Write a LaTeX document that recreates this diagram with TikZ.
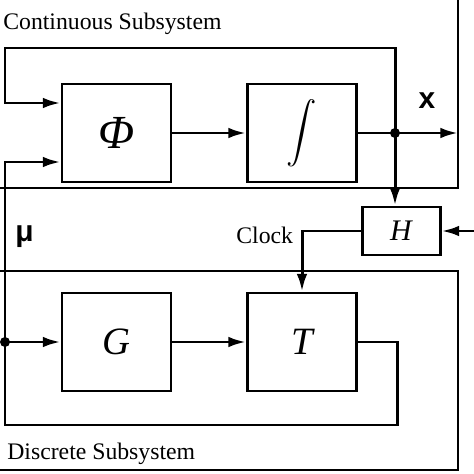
\documentclass[tikz,border=0pt]{standalone}
\usepackage{amsmath}
\usepackage{fontspec}
\setmainfont{Liberation Serif}
\setsansfont{Liberation Sans}
\usepackage{tikz}
\usetikzlibrary{arrows.meta}

\begin{document}
\begin{tikzpicture}[
	ln/.style={line width=1.7pt},
	arr/.style={ln,-{Latex[length=10pt,width=6pt]}},
	frame/.style={line width=1.5pt},
	blk/.style={draw,ln,inner sep=0,minimum width=2.18cm,minimum height=1.96cm,font=\fontsize{22}{22}\selectfont},
	lbl/.style={inner sep=0,font=\fontsize{13.5}{13.5}\selectfont},
	sym/.style={inner sep=0,font=\fontsize{17}{17}\selectfont\sffamily\bfseries}
]

\clip (0,0) rectangle (9.48,-9.48);

\draw[frame] (-0.3,0.3) rectangle (9.16,-3.76); %continuous
\draw[frame] (-0.3,-5.42) rectangle (9.16,-9.40); %discrete

\foreach \n/\x/\y/\t in {phi/2.33/-2.66/{\fontsize{27}{27}\selectfont\itshape Φ},
	int/6.04/-2.66/{\fontsize{16}{16}\selectfont$\displaystyle\int$},
	g/2.33/-6.84/{\itshape G}, t/6.04/-6.84/{\itshape T}}
	\node[blk] (\n) at (\x,\y) {\t};

\node[draw,ln,inner sep=0,minimum width=1.56cm,minimum height=0.96cm,
	font=\fontsize{17}{17}\selectfont\itshape] (h) at (8.02,-4.62) {H};

\node[lbl,anchor=base west] (cs) at (0.06,-0.6) {Continuous Subsystem};
\node[lbl,anchor=base west] (ds) at (0.14,-9.18) {Discrete Subsystem};
\node[lbl,anchor=base west] (clk) at (4.72,-4.86) {Clock};
\node[sym,anchor=base west] (mu) at (0.3,-4.84) {μ};
\node[sym,anchor=base] (xl) at (8.54,-2.18) {x};

\coordinate (j) at (7.9,-2.66);
\coordinate (xo) at (9.16,-2.66);
\coordinate (tl) at (0.1,-0.96);
\coordinate (in1) at (0.1,-2.06);
\coordinate (in2) at (0.1,-3.24);
\coordinate (dg) at (0.1,-6.84);
\coordinate (bl) at (0.1,-8.5);
\coordinate (hin) at (9.7,-4.62);

\draw[arr] (phi) -- (int);
\draw[ln] (int) -- (j);
\draw[arr] (j) -- (xo);
\draw[arr] (j) |- (tl) -- (in1) -- (in1 -| phi.west); %feedback
\draw[arr] (j) -- (j |- h.north);
\draw[arr] (hin) -- (h);
\draw[arr] (h.west) -| (t.north); %clock

\draw[arr] (dg) -- (g);
\draw[arr] (g) -- (t);
\draw[arr] (t.east) -- ++(0.79,0) |- (bl) -- (in2) -- (in2 -| phi.west);

\fill (j) circle (0.1);
\fill (dg) circle (0.1);

\end{tikzpicture}
\end{document}
